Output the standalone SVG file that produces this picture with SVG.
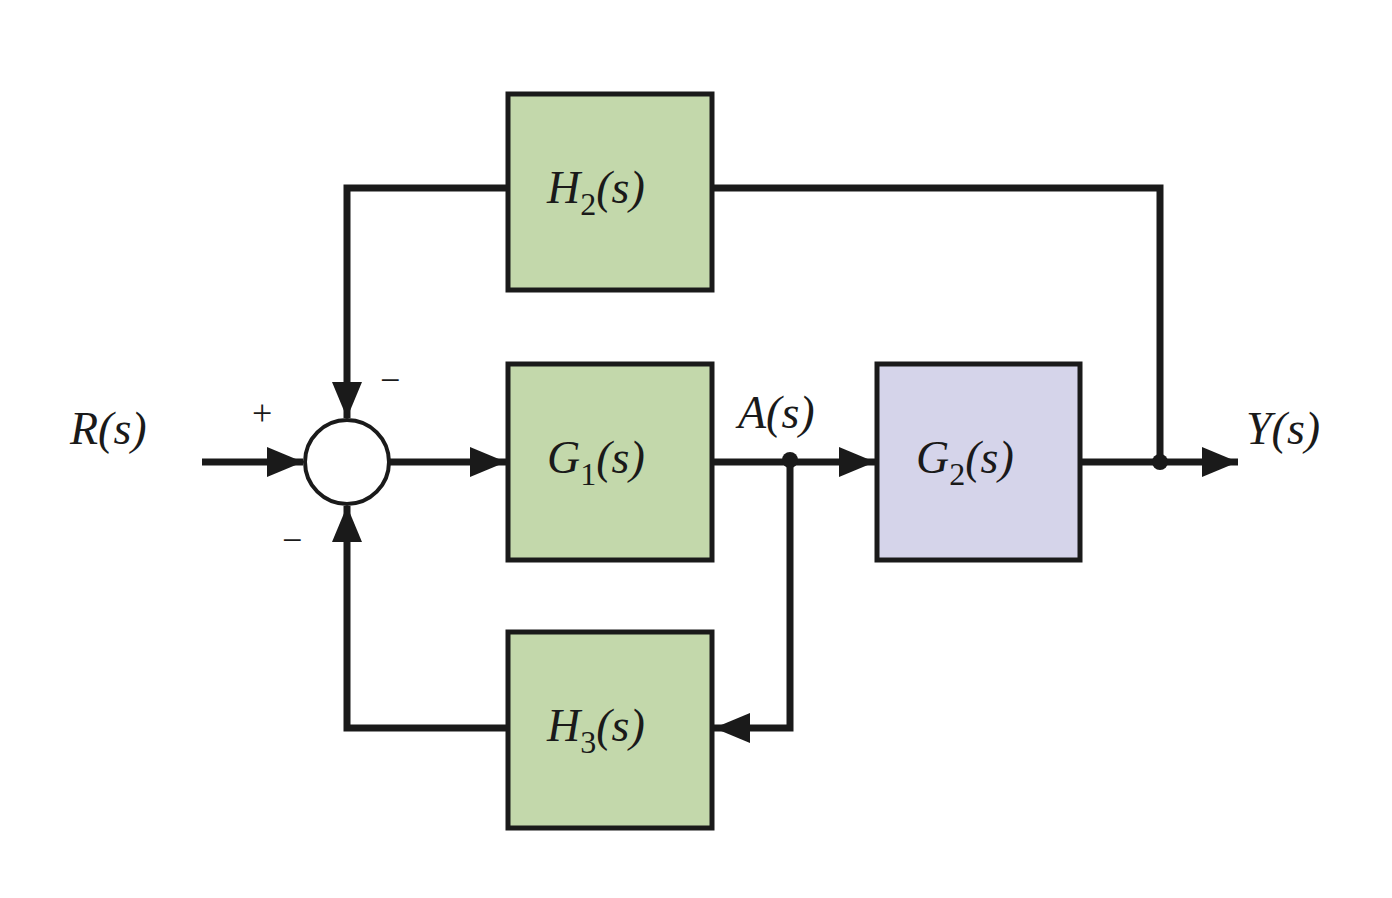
<svg xmlns="http://www.w3.org/2000/svg" width="1392" height="898" viewBox="0 0 1392 898">
<style>
.blk{stroke:#1a1a1a;stroke-width:5}
.g{fill:#c3d8ab}.p{fill:#d5d4ea}
.ln{fill:none;stroke:#1a1a1a;stroke-width:7}
.t{font-family:"Liberation Serif",serif;font-style:italic;font-size:46px;fill:#1a1a1a}
.s{font-family:"Liberation Serif",serif;font-size:36px;fill:#1a1a1a}
</style>
<defs><marker id="a" markerUnits="userSpaceOnUse" markerWidth="40" markerHeight="30" refX="36" refY="15" orient="auto"><path d="M0,0L36,15L0,30Z" fill="#1a1a1a"/></marker></defs>
<rect width="1392" height="898" fill="#fff"/>
<g id="connectors">
<path class="ln" d="M202,462H303" marker-end="url(#a)"/>
<path class="ln" d="M389,462H506" marker-end="url(#a)"/>
<path class="ln" d="M712,462H875" marker-end="url(#a)"/>
<path class="ln" d="M1080,462H1238" marker-end="url(#a)"/>
<path class="ln" d="M1160,462V188H712"/>
<path class="ln" d="M508,188H347V418" marker-end="url(#a)"/>
<path class="ln" d="M790,462V728H714" marker-end="url(#a)"/>
<path class="ln" d="M508,728H347V506" marker-end="url(#a)"/>
<circle cx="790" cy="460" r="8" fill="#1a1a1a"/>
<circle cx="1160" cy="462" r="8" fill="#1a1a1a"/>
</g>
<g id="sum"><circle cx="347" cy="462" r="42" fill="#fff" stroke="#1a1a1a" stroke-width="4"/>
<text class="s" x="252" y="425">+</text><text class="s" x="380" y="392">−</text><text class="s" x="282" y="552">−</text></g>
<g id="H2"><rect class="blk g" x="508" y="94" width="204" height="196"/><text class="t" x="547" y="203">H<tspan font-size="32" font-style="normal" dy="12">2</tspan><tspan dy="-12">(s)</tspan></text></g>
<g id="G1"><rect class="blk g" x="508" y="364" width="204" height="196"/><text class="t" x="547" y="473">G<tspan font-size="32" font-style="normal" dy="12">1</tspan><tspan dy="-12">(s)</tspan></text></g>
<g id="G2"><rect class="blk p" x="877" y="364" width="203" height="196"/><text class="t" x="916" y="473">G<tspan font-size="32" font-style="normal" dy="12">2</tspan><tspan dy="-12">(s)</tspan></text></g>
<g id="H3"><rect class="blk g" x="508" y="632" width="204" height="196"/><text class="t" x="547" y="741">H<tspan font-size="32" font-style="normal" dy="12">3</tspan><tspan dy="-12">(s)</tspan></text></g>
<text class="t" x="738" y="428" font-size="44">A(s)</text>
<text class="t" x="70" y="444" font-size="52">R(s)</text>
<text class="t" x="1246" y="444" font-size="52">Y(s)</text>
</svg>
